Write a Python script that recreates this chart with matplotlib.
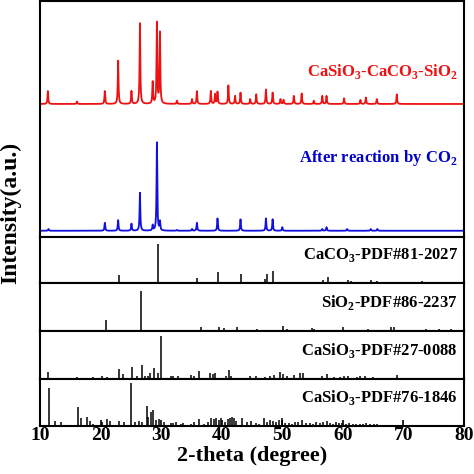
import matplotlib
matplotlib.use("Agg")
import matplotlib.pyplot as plt
import numpy as np

plt.rcParams['font.family'] = ['Liberation Serif', 'DejaVu Serif']
plt.rcParams['mathtext.fontset'] = 'custom'
plt.rcParams['mathtext.rm'] = 'Liberation Serif:bold'
plt.rcParams['mathtext.bf'] = 'Liberation Serif:bold'

# Measured pattern peaks (2-theta, relative height)
red_pos = [11.3,16.1,20.7,22.9,25.1,26.5,28.6,29.3,29.8,32.6,35.1,35.9,38.2,38.9,39.3,41.1,42.2,43.1,44.7,45.7,47.3,48.4,49.7,50.2,51.9,53.2,55.2,56.6,57.3,60.2,62.9,63.8,65.6,68.9]
red_h   = [0.16,0.03,0.16,0.54,0.16,1.0,0.27,1.0,0.88,0.04,0.06,0.16,0.16,0.12,0.15,0.23,0.10,0.14,0.06,0.12,0.18,0.14,0.06,0.05,0.10,0.13,0.04,0.10,0.10,0.07,0.05,0.08,0.06,0.12]
blue_pos = [11.4,20.7,22.9,25.1,26.5,28.6,29.3,29.8,32.6,35.1,35.9,39.3,43.1,47.3,48.4,50.0,56.6,57.3,60.7,64.6,65.7]
blue_h   = [0.02,0.09,0.12,0.08,0.43,0.06,1.0,0.10,0.01,0.02,0.09,0.14,0.13,0.14,0.13,0.04,0.02,0.04,0.02,0.02,0.02]

# Reference cards (2-theta, relative stick height)
caco3_pos = [23.1,29.4,31.5,36.0,39.4,43.2,47.2,47.5,48.5,56.7,57.5,58.1,60.8,61.4,63.2,64.7,65.7,69.5,70.4,73.1,73.8,76.4,77.2,78.6]
caco3_h   = [0.18,0.84,0.04,0.12,0.24,0.20,0.09,0.20,0.26,0.07,0.13,0.04,0.07,0.06,0.03,0.08,0.05,0.03,0.03,0.06,0.03,0.03,0.04,0.03]
sio2_pos = [20.9,26.6,36.6,39.5,40.3,42.5,45.8,50.1,50.7,54.9,55.3,57.2,60.0,64.1,65.9,67.9,68.4,73.7,75.9,77.8]
sio2_h   = [0.23,0.85,0.10,0.10,0.07,0.08,0.05,0.12,0.04,0.07,0.05,0.03,0.10,0.05,0.03,0.08,0.09,0.04,0.04,0.04]
cs27_pos = [11.4,16.1,18.7,20.2,21.0,23.0,23.7,25.2,26.0,26.8,27.4,27.8,28.2,28.9,29.4,29.9,31.6,32.0,32.8,35.0,35.4,36.2,38.1,38.5,38.9,40.7,41.2,41.6,44.6,45.7,47.2,48.0,48.7,49.7,50.1,50.8,51.9,53.0,53.4,56.6,57.4,58.5,59.5,60.2,60.8,62.4,62.8,63.7,65.0,68.9]
cs27_h   = [0.14,0.05,0.04,0.07,0.05,0.21,0.10,0.25,0.07,0.30,0.06,0.06,0.12,0.24,0.12,0.91,0.06,0.07,0.06,0.08,0.07,0.18,0.12,0.11,0.13,0.07,0.19,0.07,0.07,0.07,0.05,0.07,0.08,0.15,0.10,0.07,0.09,0.13,0.13,0.07,0.11,0.05,0.05,0.06,0.06,0.05,0.07,0.06,0.04,0.08]
cs76_pos = [11.5,12.5,13.4,16.2,16.8,17.8,18.3,18.8,20.2,21.1,21.6,23.1,23.9,25.1,25.7,26.3,26.9,27.6,27.9,28.3,28.6,29.1,29.6,30.4,31.6,32.0,32.4,33.2,33.6,34.9,35.5,36.3,37.1,37.8,38.3,38.7,39.1,39.5,39.9,40.6,41.0,41.3,41.7,42.0,42.4,43.4,44.1,44.9,45.6,46.2,46.9,47.5,47.9,48.4,48.9,49.4,50.0,50.5,51.1,51.6,52.1,52.6,53.3,53.9,54.5,55.1,55.6,56.2,56.8,57.3,57.8,58.3,58.9,59.4,59.9,60.5,61.0,61.6,62.2,62.8,63.4,63.9,64.5,65.1,65.6]
cs76_h   = [0.82,0.10,0.08,0.41,0.17,0.20,0.10,0.05,0.08,0.16,0.10,0.10,0.08,0.92,0.08,0.10,0.08,0.43,0.20,0.30,0.35,0.12,0.14,0.08,0.06,0.06,0.08,0.05,0.06,0.05,0.08,0.15,0.05,0.08,0.18,0.15,0.18,0.12,0.18,0.08,0.14,0.18,0.20,0.17,0.10,0.17,0.08,0.10,0.06,0.05,0.18,0.08,0.12,0.10,0.08,0.12,0.17,0.06,0.07,0.05,0.08,0.08,0.12,0.06,0.07,0.05,0.08,0.06,0.08,0.10,0.06,0.05,0.08,0.07,0.06,0.05,0.06,0.05,0.05,0.05,0.04,0.06,0.04,0.05,0.04]

xticks = [10,20,30,40,50,60,70,80]

def profile(pos, h, x, w=0.07):
    y = np.zeros_like(x)
    for p, a in zip(pos, h):
        y += a / (1 + ((x - p) / w) ** 2)
    return y

fig = plt.figure(figsize=(4.74, 4.74), dpi=100)
gs = fig.add_gridspec(5, 1, height_ratios=[236, 47, 48, 48, 47], hspace=0,
                      left=40/474, right=464/474, bottom=1-426/474, top=0.997)
axes = [fig.add_subplot(gs[i]) for i in range(5)]
x = np.linspace(10, 80, 6000)

ax = axes[0]
ax.plot(x, 0.564 + 0.343 * profile(red_pos, red_h, x), color='#ee1111', lw=1.3)
ax.plot(x, 0.025 + 0.375 * profile(blue_pos, blue_h, x), color='#1111dd', lw=1.3)
ax.set_ylim(0, 1)
ax.text(0.985, 0.70, r'CaSiO$_3$-CaCO$_3$-SiO$_2$', transform=ax.transAxes, ha='right', va='center',
        color='#ee1111', fontsize=12, fontweight='bold')
ax.text(0.985, 0.335, r'After reaction by CO$_2$', transform=ax.transAxes, ha='right', va='center',
        color='#0000cc', fontsize=12, fontweight='bold')

cards = [(caco3_pos, caco3_h, r'CaCO$_3$-PDF#81-2027'),
         (sio2_pos, sio2_h, r'SiO$_2$-PDF#86-2237'),
         (cs27_pos, cs27_h, r'CaSiO$_3$-PDF#27-0088'),
         (cs76_pos, cs76_h, r'CaSiO$_3$-PDF#76-1846')]
for ax, (p, h, lab) in zip(axes[1:], cards):
    ax.vlines(p, 0, h, color='black', lw=1.1)
    ax.set_ylim(0, 1)
    ax.text(0.985, 0.6, lab, transform=ax.transAxes, ha='right', va='center',
            fontsize=12, fontweight='bold')

for ax in axes:
    ax.set_xlim(10, 80)
    ax.set_yticks([])
    for s in ax.spines.values():
        s.set_linewidth(1.5)
    ax.tick_params(axis='x', direction='in', length=0)
    ax.set_xticks(xticks)
    ax.set_xticklabels([])
axes[-1].tick_params(axis='x', length=4, width=1.2, pad=1)
axes[-1].set_xticklabels([str(t) for t in xticks], fontsize=14, fontweight='bold')
axes[-1].set_xlabel('2-theta (degree)', fontsize=16, fontweight='bold', labelpad=1)
fig.text(0.022, 0.55, 'Intensity(a.u.)', rotation=90, ha='center', va='center',
         fontsize=17, fontweight='bold')
fig.savefig('out.png', dpi=100)
